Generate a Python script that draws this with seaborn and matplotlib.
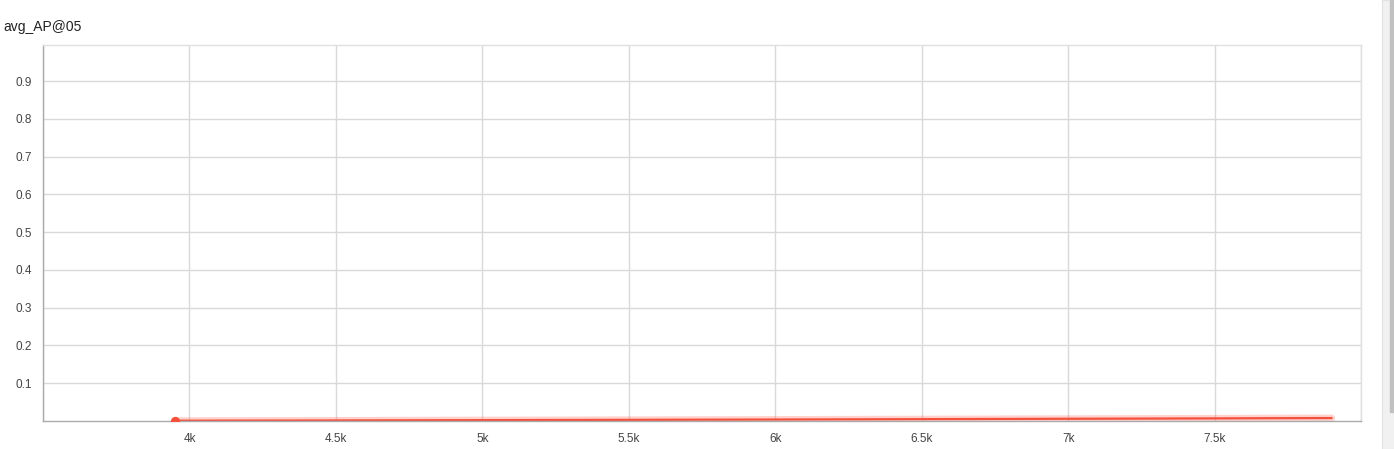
import matplotlib
matplotlib.use("Agg")
import matplotlib.pyplot as plt
import seaborn as sns
import pandas as pd

# ## Data
steps = [3950, 4200, 4450, 4700, 4950, 5200, 5450, 5700, 5950, 6200,
         6450, 6700, 6950, 7200, 7450, 7700, 7900]
avg_ap = [0.0008, 0.0011, 0.0014, 0.0018, 0.0022, 0.0026, 0.0030, 0.0034, 0.0038,
          0.0043, 0.0048, 0.0053, 0.0058, 0.0063, 0.0068, 0.0074, 0.0078]
x_ticks = [3500, 4000, 4500, 5000, 5500, 6000, 6500, 7000, 7500, 8000]
x_labels = ["", "4k", "4.5k", "5k", "5.5k", "6k", "6.5k", "7k", "7.5k", ""]
y_ticks = [0.1, 0.2, 0.3, 0.4, 0.5, 0.6, 0.7, 0.8, 0.9]

df = pd.DataFrame({"step": steps, "avg_AP@05": avg_ap})

sns.set_style("white")
plt.rcParams['font.family'] = ['Liberation Sans', 'DejaVu Sans']

fig = plt.figure(figsize=(13.94, 4.49), dpi=100)
ax = fig.add_axes([43 / 1394, 28 / 449, 1318 / 1394, 376 / 449])

# halo + main line
sns.lineplot(data=df, x="step", y="avg_AP@05", ax=ax, color="#ff6b5b",
             linewidth=5, alpha=0.3)
sns.lineplot(data=df, x="step", y="avg_AP@05", ax=ax, color="#f4503c",
             linewidth=1.6)
dot = ax.scatter([steps[0]], [avg_ap[0]], s=45, color="#f4503c", zorder=5,
                 linewidths=0)
dot.set_clip_on(True)

ax.set_xlim(3500, 8000)
ax.set_ylim(0, 0.996)
ax.set_xticks(x_ticks)
ax.set_xticklabels(x_labels)
ax.set_yticks(y_ticks)
ax.set_yticklabels([f"{v:.1f}" for v in y_ticks])
ax.set_xlabel("")
ax.set_ylabel("")

ax.grid(True, color="#d9d9d9", linewidth=1)
ax.set_axisbelow(True)
for side in ["top", "right"]:
    ax.spines[side].set_color("#e0e0e0")
    ax.spines[side].set_linewidth(1)
for side in ["left", "bottom"]:
    ax.spines[side].set_color("#aaaaaa")
    ax.spines[side].set_linewidth(1)

ax.tick_params(axis="both", labelsize=8.5, colors="#444444", length=5,
               width=1, direction="out")
ax.tick_params(axis="x", color="#cccccc", pad=4)
ax.tick_params(axis="y", color="#cccccc", pad=3)

fig.text(3 / 1394, 1 - 27 / 449, "avg_AP@05", fontsize=10, color="#222222",
         va="center", ha="left")

# scrollbar strip at right edge
fig.patches.append(plt.Rectangle((1382 / 1394, 0), 12 / 1394, 1,
                                 transform=fig.transFigure, facecolor="#f1f1f1",
                                 edgecolor="#e2e2e2", linewidth=0.8, zorder=0))
fig.patches.append(plt.Rectangle((1390 / 1394, 37 / 449), 4 / 1394, 412 / 449,
                                 transform=fig.transFigure, color="#c1c1c1",
                                 zorder=1))

fig.savefig("out.png", dpi=100)
